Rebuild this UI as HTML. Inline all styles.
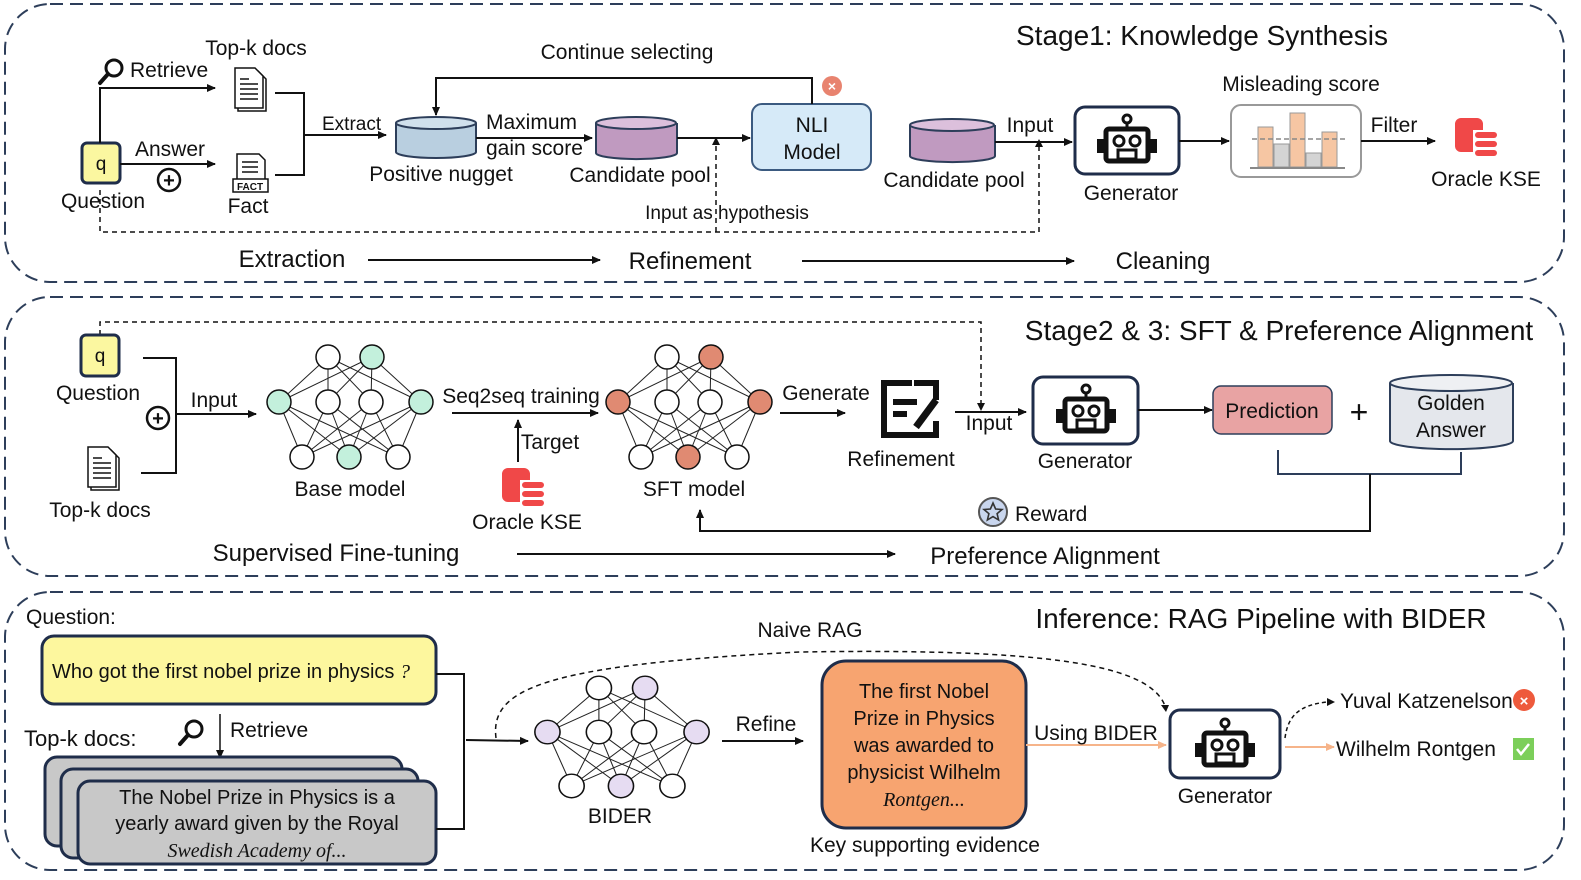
<!DOCTYPE html>
<html><head><meta charset="utf-8"><style>
html,body{margin:0;padding:0;background:#fff;}
svg{display:block;}
text{font-family:"Liberation Sans Narrow","Liberation Sans",sans-serif;fill:#111;}
.t{font-size:21px;}
.s{font-size:19px;}
.big{font-size:28px;}
.ser{font-family:"Liberation Serif",serif;font-style:italic;}
</style></head><body>
<svg width="1581" height="880" viewBox="0 0 1581 880" xmlns="http://www.w3.org/2000/svg">
<defs>
<marker id="ah" markerWidth="10" markerHeight="10" refX="8" refY="5" orient="auto" markerUnits="userSpaceOnUse"><path d="M0,1 L9,5 L0,9 z" fill="#111"/></marker>
<marker id="ao" markerWidth="10" markerHeight="10" refX="8" refY="5" orient="auto" markerUnits="userSpaceOnUse"><path d="M0,1 L9,5 L0,9 z" fill="#f6b48a"/></marker>
<g id="robot">
<line x1="0" y1="-22" x2="0" y2="-15" stroke="#111" stroke-width="3"/>
<circle cx="0" cy="-25" r="4" fill="#fff" stroke="#111" stroke-width="3"/>
<rect x="-21" y="-15" width="42" height="32" rx="3" fill="#fff" stroke="#111" stroke-width="5"/>
<rect x="-30" y="-5" width="8" height="14" fill="#111"/>
<rect x="22" y="-5" width="8" height="14" fill="#111"/>
<circle cx="-8" cy="-3" r="5" fill="#fff" stroke="#111" stroke-width="3"/>
<circle cx="8" cy="-3" r="5" fill="#fff" stroke="#111" stroke-width="3"/>
<rect x="-9" y="6" width="18" height="9" fill="#fff" stroke="#111" stroke-width="3"/>
</g>
<g id="net" stroke="#222" stroke-width="1">
<line x1="-22" y1="-48" x2="-71" y2="-3"/><line x1="-22" y1="-48" x2="-22" y2="-3"/><line x1="-22" y1="-48" x2="21" y2="-3"/><line x1="-22" y1="-48" x2="71" y2="-3"/>
<line x1="22" y1="-48" x2="-71" y2="-3"/><line x1="22" y1="-48" x2="21" y2="-3"/><line x1="22" y1="-48" x2="71" y2="-3"/><line x1="22" y1="-48" x2="-22" y2="-3"/>
<line x1="-71" y1="-3" x2="-48" y2="52"/><line x1="-71" y1="-3" x2="-1" y2="52"/><line x1="-71" y1="-3" x2="48" y2="52"/>
<line x1="-22" y1="-3" x2="-48" y2="52"/><line x1="-22" y1="-3" x2="-1" y2="52"/><line x1="-22" y1="-3" x2="48" y2="52"/>
<line x1="21" y1="-3" x2="-48" y2="52"/><line x1="21" y1="-3" x2="-1" y2="52"/><line x1="21" y1="-3" x2="48" y2="52"/>
<line x1="71" y1="-3" x2="-48" y2="52"/><line x1="71" y1="-3" x2="-1" y2="52"/><line x1="71" y1="-3" x2="48" y2="52"/>
</g>
<g id="doc" fill="#fff" stroke="#111" stroke-width="1.5">
<path d="M3,3 h20 l8,8 v32 h-28z"/>
<path d="M0,0 h20 l8,8 v32 h-28z"/>
<line x1="5" y1="16" x2="23" y2="16"/><line x1="5" y1="21" x2="23" y2="21"/><line x1="5" y1="26" x2="23" y2="26"/><line x1="5" y1="31" x2="23" y2="31"/><line x1="5" y1="11" x2="14" y2="11"/>
</g>
<g id="kse">
<path d="M0,6 a6,6 0 0 1 6,-6 h16 a6,6 0 0 1 6,6 v6 h-10 v22 h-12 a6,6 0 0 1 -6,-6z" fill="#f04848"/>
<rect x="20" y="14" width="22" height="6" rx="3" fill="#f04848"/>
<rect x="20" y="23" width="22" height="6" rx="3" fill="#f04848"/>
<rect x="20" y="32" width="22" height="6" rx="3" fill="#f04848"/>
</g>
<g id="mag"><circle cx="6" cy="-6" r="8" fill="#fff" stroke="#111" stroke-width="3"/><line x1="0" y1="0" x2="-8" y2="9" stroke="#111" stroke-width="4" stroke-linecap="round"/></g>
</defs>

<!-- outer dashed panels -->
<g fill="none" stroke="#2d3e5a" stroke-width="2" stroke-dasharray="13,7">
<rect x="5" y="4" width="1559" height="278" rx="45"/>
<rect x="5" y="297" width="1559" height="279" rx="45"/>
<rect x="5" y="592" width="1559" height="278" rx="45"/>
</g>

<!-- ===== Stage 1 ===== -->
<text x="1202" y="45" text-anchor="middle" class="big">Stage1: Knowledge Synthesis</text>
<rect x="82" y="143" width="38" height="40" rx="5" fill="#fbf7a0" stroke="#1f2d4a" stroke-width="3"/>
<text x="101" y="170" text-anchor="middle" class="s">q</text>
<text x="103" y="208" text-anchor="middle" class="t">Question</text>
<polyline points="100,143 100,88 215,88" fill="none" stroke="#111" stroke-width="2" marker-end="url(#ah)"/>
<use href="#mag" x="108" y="74"/>
<text x="130" y="77" class="t">Retrieve</text>
<text x="135" y="156" class="t">Answer</text>
<line x1="120" y1="164" x2="215" y2="164" stroke="#111" stroke-width="2" marker-end="url(#ah)"/>
<circle cx="169" cy="180" r="11" fill="#fff" stroke="#111" stroke-width="2.5"/>
<text x="169" y="187" text-anchor="middle" font-size="20" font-weight="bold">+</text>
<use href="#doc" x="235" y="68"/>
<text x="256" y="55" text-anchor="middle" class="t">Top-k docs</text>
<g fill="#fff" stroke="#111" stroke-width="1.5"><path d="M237,154 h22 l6,6 v24 h-28z"/><line x1="242" y1="162" x2="258" y2="162"/><line x1="242" y1="167" x2="258" y2="167"/><line x1="242" y1="172" x2="258" y2="172"/></g>
<rect x="233" y="179" width="35" height="13" fill="#fff" stroke="#111" stroke-width="1.5"/>
<text x="250" y="190" text-anchor="middle" font-size="10" font-weight="bold">FACT</text>
<text x="248" y="213" text-anchor="middle" class="t">Fact</text>
<polyline points="275,93 304,93 304,175 275,175" fill="none" stroke="#111" stroke-width="2"/>
<line x1="304" y1="135" x2="386" y2="135" stroke="#111" stroke-width="2" marker-end="url(#ah)"/>
<text x="322" y="130" class="s">Extract</text>
<!-- positive nugget -->
<path d="M396,123 v29 a40,6 0 0 0 80,0 v-29" fill="#b9cfe0" stroke="#2d3e5a" stroke-width="2"/>
<ellipse cx="436" cy="123" rx="40" ry="6" fill="#d0e0ec" stroke="#2d3e5a" stroke-width="2"/>
<text x="441" y="181" text-anchor="middle" class="t">Positive nugget</text>
<text x="486" y="129" class="t">Maximum</text>
<text x="486" y="155" class="t">gain score</text>
<line x1="476" y1="138" x2="592" y2="138" stroke="#111" stroke-width="2" marker-end="url(#ah)"/>
<path d="M596,123 v30 a40,6 0 0 0 81,0 v-30" fill="#c09ac0" stroke="#2d3e5a" stroke-width="2"/>
<ellipse cx="636" cy="123" rx="40" ry="6" fill="#dcc0dc" stroke="#2d3e5a" stroke-width="2"/>
<text x="640" y="182" text-anchor="middle" class="t">Candidate pool</text>
<line x1="677" y1="138" x2="750" y2="138" stroke="#111" stroke-width="2" marker-end="url(#ah)"/>
<rect x="752" y="104" width="119" height="66" rx="10" fill="#d6eaf8" stroke="#3b5a80" stroke-width="2"/>
<text x="812" y="132" text-anchor="middle" class="t">NLI</text>
<text x="812" y="159" text-anchor="middle" class="t">Model</text>
<polyline points="812,104 812,78 436,78 436,115" fill="none" stroke="#111" stroke-width="2" marker-end="url(#ah)"/>
<text x="627" y="59" text-anchor="middle" class="t">Continue selecting</text>
<circle cx="832" cy="86" r="10" fill="#e8836f"/>
<text x="832" y="91" text-anchor="middle" font-size="14" font-weight="bold" style="fill:#fff">×</text>
<g fill="none" stroke="#111" stroke-width="1.5" stroke-dasharray="5,4">
<polyline points="100,190 100,232 1039,232 1039,145"/>
<line x1="716" y1="232" x2="716" y2="142"/>
</g>
<path d="M1039,139 l-4,8 h8z M716,137 l-4,8 h8z" fill="#111"/>
<text x="727" y="219" text-anchor="middle" class="s">Input as hypothesis</text>
<path d="M910,125 v31 a42,6 0 0 0 85,0 v-31" fill="#c09ac0" stroke="#2d3e5a" stroke-width="2"/>
<ellipse cx="952" cy="125" rx="42" ry="6" fill="#dcc0dc" stroke="#2d3e5a" stroke-width="2"/>
<text x="954" y="187" text-anchor="middle" class="t">Candidate pool</text>
<line x1="995" y1="142" x2="1072" y2="142" stroke="#111" stroke-width="2" marker-end="url(#ah)"/>
<text x="1030" y="132" text-anchor="middle" class="t">Input</text>
<rect x="1075" y="107" width="104" height="67" rx="10" fill="#fff" stroke="#1f2d4a" stroke-width="3"/>
<use href="#robot" x="1127" y="144"/>
<text x="1131" y="200" text-anchor="middle" class="t">Generator</text>
<line x1="1179" y1="141" x2="1229" y2="141" stroke="#111" stroke-width="2" marker-end="url(#ah)"/>
<rect x="1231" y="105" width="130" height="72" rx="10" fill="#fff" stroke="#999" stroke-width="2"/>
<g fill="#f6c6a3" stroke="#999" stroke-width="1">
<rect x="1258" y="127" width="15" height="40"/><rect x="1290" y="113" width="15" height="54"/><rect x="1322" y="132" width="15" height="35"/>
</g>
<g fill="#d4d4d4" stroke="#999" stroke-width="1"><rect x="1274" y="144" width="15" height="23"/><rect x="1306" y="153" width="15" height="14"/></g>
<line x1="1250" y1="168" x2="1345" y2="168" stroke="#888" stroke-width="2"/>
<line x1="1252" y1="139" x2="1345" y2="139" stroke="#888" stroke-width="1.5" stroke-dasharray="5,3"/>
<text x="1301" y="91" text-anchor="middle" class="t">Misleading score</text>
<line x1="1361" y1="141" x2="1435" y2="141" stroke="#111" stroke-width="2" marker-end="url(#ah)"/>
<text x="1394" y="132" text-anchor="middle" class="t">Filter</text>
<use href="#kse" x="1455" y="118"/>
<text x="1486" y="186" text-anchor="middle" class="t">Oracle KSE</text>
<text x="292" y="267" text-anchor="middle" font-size="24">Extraction</text>
<line x1="368" y1="260" x2="600" y2="260" stroke="#111" stroke-width="2" marker-end="url(#ah)"/>
<text x="690" y="269" text-anchor="middle" font-size="24">Refinement</text>
<line x1="802" y1="261" x2="1074" y2="261" stroke="#111" stroke-width="2" marker-end="url(#ah)"/>
<text x="1163" y="269" text-anchor="middle" font-size="24">Cleaning</text>

<!-- ===== Stage 2 ===== -->
<text x="1279" y="340" text-anchor="middle" class="big">Stage2 &amp; 3: SFT &amp; Preference Alignment</text>
<polyline points="100,335 100,322 981,322 981,404" fill="none" stroke="#111" stroke-width="1.5" stroke-dasharray="5,4"/>
<path d="M981,411 l-4,-8 h8z" fill="#111"/>
<rect x="81" y="335" width="38" height="41" rx="5" fill="#fbf7a0" stroke="#1f2d4a" stroke-width="3"/>
<text x="100" y="362" text-anchor="middle" class="s">q</text>
<text x="98" y="400" text-anchor="middle" class="t">Question</text>
<use href="#doc" x="88" y="447"/>
<text x="100" y="517" text-anchor="middle" class="t">Top-k docs</text>
<polyline points="143,358 176,358 176,473 141,473" fill="none" stroke="#111" stroke-width="2"/>
<circle cx="158" cy="418" r="11" fill="#fff" stroke="#111" stroke-width="2.5"/>
<text x="158" y="425" text-anchor="middle" font-size="20" font-weight="bold">+</text>
<line x1="176" y1="414" x2="256" y2="414" stroke="#111" stroke-width="2" marker-end="url(#ah)"/>
<text x="214" y="407" text-anchor="middle" class="t">Input</text>
<!-- base model -->
<g transform="translate(350,405)">
<use href="#net"/>
<g stroke="#111" stroke-width="1.5">
<circle cx="-22" cy="-48" r="12" fill="#fff"/><circle cx="22" cy="-48" r="12" fill="#c3f0dc"/>
<circle cx="-71" cy="-3" r="12" fill="#c3f0dc"/><circle cx="-22" cy="-3" r="12" fill="#fff"/><circle cx="21" cy="-3" r="12" fill="#fff"/><circle cx="71" cy="-3" r="12" fill="#c3f0dc"/>
<circle cx="-48" cy="52" r="12" fill="#fff"/><circle cx="-1" cy="52" r="12" fill="#c3f0dc"/><circle cx="48" cy="52" r="12" fill="#fff"/>
</g></g>
<text x="350" y="496" text-anchor="middle" class="t">Base model</text>
<line x1="452" y1="413" x2="598" y2="413" stroke="#111" stroke-width="2" marker-end="url(#ah)"/>
<text x="521" y="403" text-anchor="middle" class="t">Seq2seq training</text>
<line x1="518" y1="462" x2="518" y2="420" stroke="#111" stroke-width="2" marker-end="url(#ah)"/>
<text x="550" y="449" text-anchor="middle" class="t">Target</text>
<use href="#kse" x="502" y="468"/>
<text x="527" y="529" text-anchor="middle" class="t">Oracle KSE</text>
<g transform="translate(689,405)">
<use href="#net"/>
<g stroke="#111" stroke-width="1.5">
<circle cx="-22" cy="-48" r="12" fill="#fff"/><circle cx="22" cy="-48" r="12" fill="#e08a72"/>
<circle cx="-71" cy="-3" r="12" fill="#e08a72"/><circle cx="-22" cy="-3" r="12" fill="#fff"/><circle cx="21" cy="-3" r="12" fill="#fff"/><circle cx="71" cy="-3" r="12" fill="#e08a72"/>
<circle cx="-48" cy="52" r="12" fill="#fff"/><circle cx="-1" cy="52" r="12" fill="#e08a72"/><circle cx="48" cy="52" r="12" fill="#fff"/>
</g></g>
<text x="694" y="496" text-anchor="middle" class="t">SFT model</text>
<line x1="780" y1="413" x2="845" y2="413" stroke="#111" stroke-width="2" marker-end="url(#ah)"/>
<text x="826" y="400" text-anchor="middle" class="t">Generate</text>
<!-- refinement icon -->
<path d="M912,383 h-28 v52 h52 v-14 M936,400 v-17 h-22" fill="none" stroke="#111" stroke-width="6"/>
<rect x="893" y="399" width="24" height="6" fill="#111"/><rect x="893" y="411" width="14" height="6" fill="#111"/>
<line x1="916" y1="427" x2="936" y2="400" stroke="#111" stroke-width="7"/>
<text x="901" y="466" text-anchor="middle" class="t">Refinement</text>
<line x1="955" y1="412" x2="1026" y2="412" stroke="#111" stroke-width="2" marker-end="url(#ah)"/>
<text x="989" y="430" text-anchor="middle" class="t">Input</text>
<rect x="1033" y="377" width="105" height="67" rx="10" fill="#fff" stroke="#1f2d4a" stroke-width="3"/>
<use href="#robot" x="1086" y="414"/>
<text x="1085" y="468" text-anchor="middle" class="t">Generator</text>
<line x1="1138" y1="410" x2="1212" y2="410" stroke="#111" stroke-width="2" marker-end="url(#ah)"/>
<rect x="1213" y="386" width="119" height="48" rx="8" fill="#e8a3a3" stroke="#2d3e5a" stroke-width="1.5"/>
<text x="1272" y="418" text-anchor="middle" class="t">Prediction</text>
<text x="1359" y="423" text-anchor="middle" font-size="32">+</text>
<path d="M1390,383 v58 a61,8 0 0 0 123,0 v-58" fill="#e4e7ec" stroke="#2d3e5a" stroke-width="2"/>
<ellipse cx="1451" cy="383" rx="61" ry="8" fill="#eef0f3" stroke="#2d3e5a" stroke-width="2"/>
<text x="1451" y="410" text-anchor="middle" class="t">Golden</text>
<text x="1451" y="437" text-anchor="middle" class="t">Answer</text>
<polyline points="1278,450 1278,474 1461,474 1461,452" fill="none" stroke="#2d3e5a" stroke-width="2"/>
<polyline points="1370,474 1370,531 700,531 700,510" fill="none" stroke="#111" stroke-width="2" marker-end="url(#ah)"/>
<circle cx="993" cy="512" r="14" fill="#c9d6ee" stroke="#555" stroke-width="2"/>
<path d="M993,503 l2.6,6 6.4,.5 -4.9,4.2 1.5,6.3 -5.6,-3.4 -5.6,3.4 1.5,-6.3 -4.9,-4.2 6.4,-.5z" fill="none" stroke="#333" stroke-width="1.6"/>
<text x="1015" y="521" class="t">Reward</text>
<text x="336" y="561" text-anchor="middle" font-size="24">Supervised Fine-tuning</text>
<line x1="517" y1="554" x2="895" y2="554" stroke="#111" stroke-width="2" marker-end="url(#ah)"/>
<text x="1045" y="564" text-anchor="middle" font-size="24">Preference Alignment</text>

<!-- ===== Inference ===== -->
<text x="1261" y="628" text-anchor="middle" class="big">Inference: RAG Pipeline with BIDER</text>
<text x="26" y="624" class="t">Question:</text>
<rect x="42" y="636" width="394" height="68" rx="12" fill="#fdf79e" stroke="#1f2d4a" stroke-width="3"/>
<text x="52" y="678" font-size="20">Who got the first nobel prize in physics <tspan class="ser">?</tspan></text>
<line x1="220" y1="714" x2="220" y2="758" stroke="#111" stroke-width="1.5" marker-end="url(#ah)"/>
<use href="#mag" x="188" y="735"/>
<text x="230" y="737" class="t">Retrieve</text>
<text x="24" y="746" font-size="22">Top-k docs:</text>
<g fill="#c8c8c8" stroke="#1f2d4a" stroke-width="3">
<rect x="45" y="757" width="357" height="89" rx="12"/>
<rect x="61" y="769" width="357" height="89" rx="12"/>
<rect x="78" y="781" width="358" height="83" rx="12"/>
</g>
<text x="257" y="804" text-anchor="middle" font-size="20">The Nobel Prize in Physics is a</text>
<text x="257" y="830" text-anchor="middle" font-size="20">yearly award given by the Royal</text>
<text x="257" y="857" text-anchor="middle" font-size="20" class="ser">Swedish Academy of...</text>
<polyline points="436,674 464,674 464,829 436,829" fill="none" stroke="#111" stroke-width="2"/>
<line x1="466" y1="740" x2="528" y2="741" stroke="#111" stroke-width="2" marker-end="url(#ah)"/>
<path d="M496,738 C490,690 540,665 800,652 C1050,648 1150,665 1165,706" fill="none" stroke="#111" stroke-width="1.5" stroke-dasharray="5,4"/>
<path d="M1166,712 l-5,-7 h8z" fill="#111"/>
<text x="810" y="637" text-anchor="middle" class="t">Naive RAG</text>
<g transform="translate(622,735) scale(1.05,0.98)">
<use href="#net"/>
<g stroke="#111" stroke-width="1.5">
<circle cx="-22" cy="-48" r="12" fill="#fff"/><circle cx="22" cy="-48" r="12" fill="#e6dcf2"/>
<circle cx="-71" cy="-3" r="12" fill="#e6dcf2"/><circle cx="-22" cy="-3" r="12" fill="#fff"/><circle cx="21" cy="-3" r="12" fill="#fff"/><circle cx="71" cy="-3" r="12" fill="#e6dcf2"/>
<circle cx="-48" cy="52" r="12" fill="#fff"/><circle cx="-1" cy="52" r="12" fill="#e6dcf2"/><circle cx="48" cy="52" r="12" fill="#fff"/>
</g></g>
<text x="620" y="823" text-anchor="middle" class="t">BIDER</text>
<line x1="722" y1="741" x2="803" y2="741" stroke="#111" stroke-width="2" marker-end="url(#ah)"/>
<text x="766" y="731" text-anchor="middle" class="t">Refine</text>
<rect x="822" y="661" width="204" height="167" rx="24" fill="#f7a470" stroke="#1f2d4a" stroke-width="3"/>
<g text-anchor="middle" font-size="20">
<text x="924" y="698">The first Nobel</text>
<text x="924" y="725">Prize in Physics</text>
<text x="924" y="752">was awarded to</text>
<text x="924" y="779">physicist Wilhelm</text>
<text x="924" y="806" class="ser">Rontgen...</text>
</g>
<text x="925" y="852" text-anchor="middle" class="t">Key supporting evidence</text>
<line x1="1026" y1="745" x2="1166" y2="745" stroke="#f6b48a" stroke-width="2" marker-end="url(#ao)"/>
<text x="1096" y="740" text-anchor="middle" class="t">Using BIDER</text>
<rect x="1170" y="710" width="110" height="68" rx="10" fill="#fff" stroke="#1f2d4a" stroke-width="3"/>
<use href="#robot" x="1225" y="748"/>
<text x="1225" y="803" text-anchor="middle" class="t">Generator</text>
<path d="M1285,738 C1288,715 1300,705 1327,702" fill="none" stroke="#111" stroke-width="1.5" stroke-dasharray="4,3"/>
<path d="M1335,702 l-8,-4 v8z" fill="#111"/>
<text x="1340" y="708" class="t">Yuval Katzenelson</text>
<circle cx="1524" cy="700" r="11" fill="#ee5a3c"/>
<text x="1524" y="706" text-anchor="middle" font-size="15" font-weight="bold" style="fill:#fff">×</text>
<line x1="1285" y1="747" x2="1334" y2="747" stroke="#f6b48a" stroke-width="2" marker-end="url(#ao)"/>
<text x="1336" y="756" class="t">Wilhelm Rontgen</text>
<rect x="1513" y="738" width="21" height="22" fill="#7ccf5a"/>
<path d="M1517,749 l4,5 l8,-10" fill="none" stroke="#fff" stroke-width="2.5"/>
</svg>
</body></html>
